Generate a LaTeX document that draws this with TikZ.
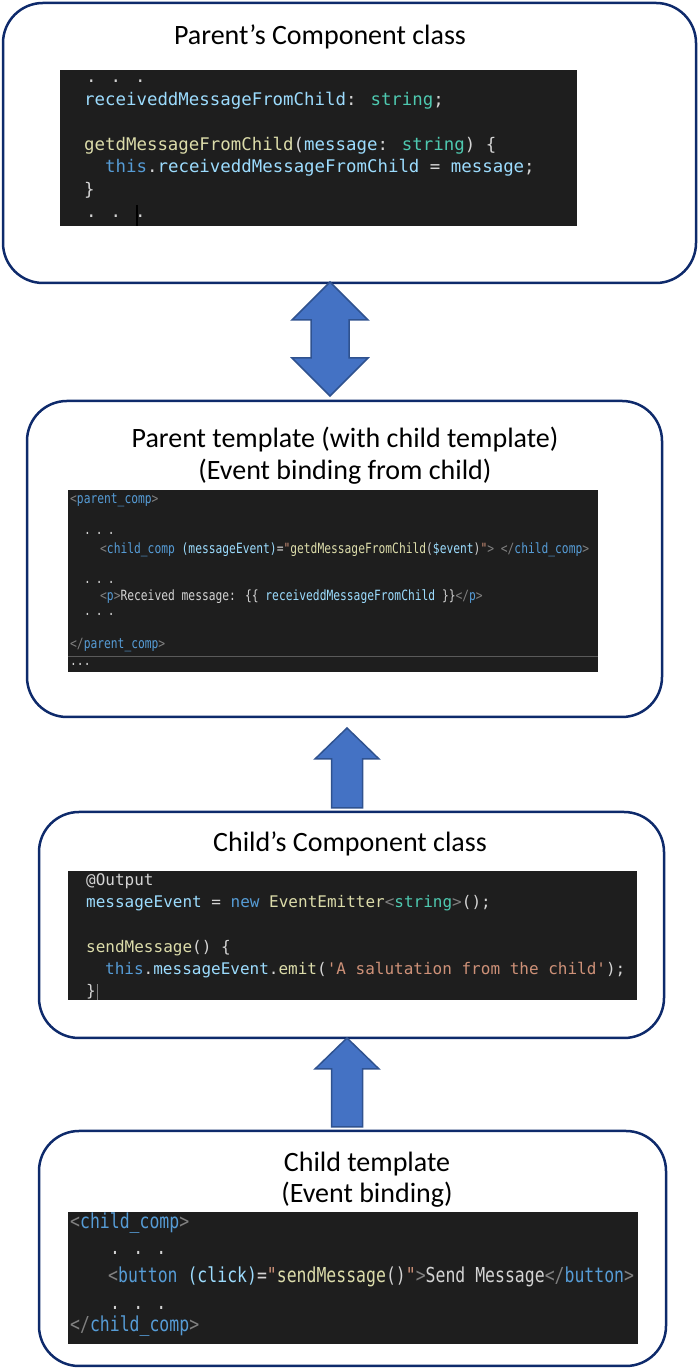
\documentclass[tikz,border=0pt]{standalone}
\usepackage{fontspec}
\setmainfont{Carlito}
\newfontfamily\codefont[Ligatures=TeXOff]{DejaVu Sans Mono}
\newfontfamily\narrowfont[Ligatures=TeXOff,FakeStretch=0.8]{DejaVu Sans Mono}
\usetikzlibrary{positioning}

\definecolor{boxline}{HTML}{0E2A6B}
\definecolor{arrfill}{HTML}{4472C4}
\definecolor{arrline}{HTML}{2F528F}
\definecolor{codebg}{HTML}{1E1E1E}
\definecolor{cplain}{HTML}{D4D4D4}
\definecolor{cvar}{HTML}{9CDCFE}
\definecolor{ctype}{HTML}{4EC9B0}
\definecolor{cfun}{HTML}{DCDCAA}
\definecolor{ckey}{HTML}{569CD6}
\definecolor{cstr}{HTML}{CE9178}
\definecolor{ctag}{HTML}{808080}

\newcommand\cVar[1]{\textcolor{cvar}{#1}}
\newcommand\cTyp[1]{\textcolor{ctype}{#1}}
\newcommand\cFun[1]{\textcolor{cfun}{#1}}
\newcommand\cKey[1]{\textcolor{ckey}{#1}}
\newcommand\cStr[1]{\textcolor{cstr}{#1}}
\newcommand\cTag[1]{\textcolor{ctag}{#1}}
\newcommand\dotrow{.\kern5pt.\kern5pt.}

\tikzset{
  panel/.style={draw=boxline,line width=2.5pt,rounded corners=40pt},
  codebox/.style={fill=codebg,inner sep=0pt},
  title/.style={anchor=base,inner sep=0pt,font=\fontsize{28}{34}\selectfont},
  codeline/.style={anchor=base west,inner sep=0pt,text=cplain},
  codeA/.style={codeline,font=\codefont\fontsize{17.4}{20}\selectfont},
  codeB/.style={codeline,font=\narrowfont\fontsize{14.1}{16}\selectfont},
  codeC/.style={codeline,font=\codefont\fontsize{16}{18}\selectfont},
  codeD/.style={codeline,font=\narrowfont\fontsize{20.6}{24}\selectfont},
  blockarr/.style={fill=arrfill,draw=arrline,line width=1.5pt},
  arrlen/.store in=\arrlen, arrlen=80,
  uparr/.pic={\draw[blockarr] (0,0) -- (32,-31) -- (15.5,-31) -- (15.5,-\arrlen)
    -- (-15.5,-\arrlen) -- (-15.5,-31) -- (-32,-31) -- cycle;},
  dblarr/.pic={\draw[blockarr] (0,0) -- (38,-38) -- (19,-38) -- (19,-76) -- (38,-76)
    -- (0,-114) -- (-38,-76) -- (-19,-76) -- (-19,-38) -- (-38,-38) -- cycle;}
}

\begin{document}
\begin{tikzpicture}[x=1pt,y=1pt]
\useasboundingbox (0,0) rectangle (700,1372);

% the four panels
\node[panel,minimum width=693pt,minimum height=280pt] (pcls) at (349.5,1229) {};
\node[panel,minimum width=635pt,minimum height=316pt] (ptpl) at (344.5,813) {};
\node[panel,minimum width=625pt,minimum height=226pt] (ccls) at (351.5,447) {};
\node[panel,minimum width=627pt,minimum height=235pt] (ctpl) at (352.5,123.5) {};

% block arrows
\pic at (330,1090) {dblarr};
\pic at (347,644) {uparr};
\pic[arrlen=89] at (347,334) {uparr};

% titles
\node[title] (pclsT) at (320,1327.5) {Parent’s Component class};
\node[title] (ptplT) at (345,924) {Parent template (with child template)};
\node[title] (ptplS) at (345,892) {(Event binding from child)};
\node[title] (cclsT) at (350,520.5) {Child’s Component class};
\node[title] (ctplT) at (367,200.5) {Child template};
\node[title] (ctplS) at (367,169.5) {(Event binding)};

% parent component class
\node[codebox,minimum width=517pt,minimum height=156pt] (pclsC) at (318.5,1224) {};
\node[codeA] (pc1) at (86,1289) {. . .};
\node[codeA] (pc2) at (84,1266.5) {\cVar{receiveddMessageFromChild}: \cTyp{string};};
\node[codeA] (pc3) at (84,1221.5) {\cFun{getdMessageFromChild}(\cVar{message}: \cTyp{string}) \{};
\node[codeA] (pc4) at (105,1199) {\cKey{this}.\cVar{receiveddMessageFromChild} = \cVar{message};};
\node[codeA] (pc5) at (84,1176.5) {\}};
\node[codeA] (pc6) at (86,1154) {. . .};
\draw[black,line width=1.3pt] (137,1167) -- (137,1146);

% parent template
\node[codebox,minimum width=530pt,minimum height=182pt] (ptplC) at (333,791) {};
\node[codeB] (pt1) at (70,868) {\cTag{<}\cKey{parent\_comp}\cTag{>}};
\node[codeB] (pt2) at (84,837) {\dotrow};
\node[codeB] (pt3) at (100,818) {\cTag{<}\cKey{child\_comp} \cVar{(messageEvent)}=\cStr{"}\cFun{getdMessageFromChild}(\cVar{\$event})\cStr{"}\cTag{>} \cTag{</}\cKey{child\_comp}\cTag{>}};
\node[codeB] (pt4) at (84,788) {\dotrow};
\node[codeB] (pt5) at (100,771) {\cTag{<}\cKey{p}\cTag{>}Received message: \{\{ \cVar{receiveddMessageFromChild} \}\}\cTag{</}\cKey{p}\cTag{>}};
\node[codeB] (pt6) at (84,756) {\dotrow};
\node[codeB] (pt7) at (70,723) {\cTag{</}\cKey{parent\_comp}\cTag{>}};
\draw[ctag!70!black,line width=1pt] (68,715) -- (598,715);
\node[codeB] (pt8) at (70,706) {...};

% child component class
\node[codebox,minimum width=569pt,minimum height=129pt] (cclsC) at (352.5,436.5) {};
\node[codeC] (cc1) at (86,486) {@Output};
\node[codeC] (cc2) at (86,464) {\cVar{messageEvent} = \cKey{new} \cFun{EventEmitter}\cTag{<}\cTyp{string}\cTag{>}();};
\node[codeC] (cc3) at (86,419) {\cFun{sendMessage}() \{};
\node[codeC] (cc4) at (105,397) {\cKey{this}.\cVar{messageEvent}.\cFun{emit}(\cStr{'A salutation from the child'});};
\node[codeC] (cc5) at (86,375) {\}};
\draw[ctag,line width=0.8pt] (97,388) -- (97,372);

% child template
\node[codebox,minimum width=570pt,minimum height=132pt] (ctplC) at (353,94) {};
\node[codeD] (ct1) at (70,143) {\cTag{<}\cKey{child\_comp}\cTag{>}};
\node[codeD] (ct2) at (110,117) {. . .};
\node[codeD] (ct3) at (108,89) {\cTag{<}\cKey{button} \cVar{(click)}=\cStr{"}\cFun{sendMessage}()\cStr{"}\cTag{>}Send Message\cTag{</}\cKey{button}\cTag{>}};
\node[codeD] (ct4) at (110,62) {. . .};
\node[codeD] (ct5) at (70,40) {\cTag{</}\cKey{child\_comp}\cTag{>}};
\end{tikzpicture}
\end{document}
